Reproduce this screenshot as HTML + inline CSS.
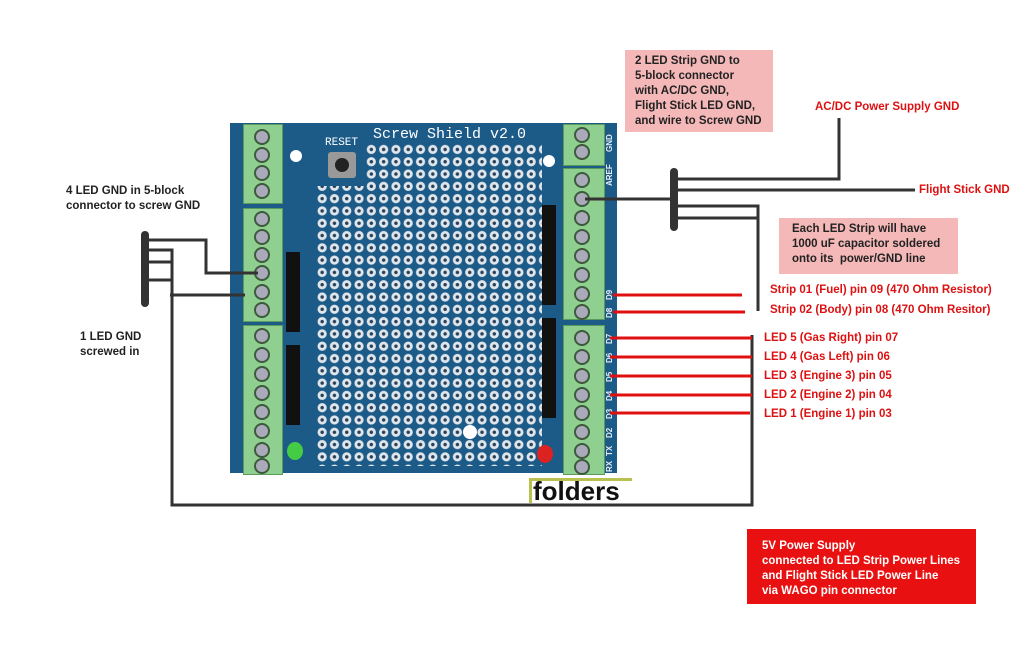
<!DOCTYPE html><html><head><style>
body{margin:0;width:1035px;height:669px;background:#fff;position:relative;overflow:hidden;font-family:"Liberation Sans",sans-serif}
.a{position:absolute}
.t{position:absolute;font-weight:bold;font-size:11.5px;line-height:15px;color:#222}
.r{color:#d11}
.term{position:absolute;background:#8fcf8f;border:1px solid #5a9a5a}
.hdr{position:absolute;background:#111}
.pl{position:absolute;left:605px;color:#e8eef4;font-size:8px;font-weight:bold;transform:rotate(-90deg);transform-origin:left top;width:20px}
</style></head><body>
<div class="a" style="left:230px;top:123px;width:387px;height:350px;background:#1c5a88"></div>
<div class="a" style="left:316px;top:131px;width:226px;height:335px;background-image:radial-gradient(circle,#2a3f55 1.5px,#dfe6ec 2px,#dfe6ec 4.3px,transparent 4.8px);background-size:12.3px 12.3px"></div>
<div class="a" style="left:316px;top:125px;width:230px;height:17px;background:#1c5a88"></div>
<div class="a" style="left:316px;top:131px;width:50px;height:55px;background:#1c5a88"></div>
<div class="a" style="left:328px;top:152px;width:28px;height:26px;background:#999;border-radius:3px"></div>
<div class="a" style="left:335px;top:158px;width:14px;height:14px;background:#222;border-radius:50%"></div>
<div class="a" style="left:325px;top:137px;color:#fff;font-size:11px;font-family:'Liberation Mono',monospace">RESET</div>
<div class="a" style="left:373px;top:126px;color:#fff;font-size:15px;font-family:'Liberation Mono',monospace">Screw Shield v2.0</div>
<div class="a" style="left:290px;top:150px;width:12px;height:12px;background:#fff;border-radius:50%"></div>
<div class="a" style="left:543px;top:155px;width:12px;height:12px;background:#fff;border-radius:50%"></div>
<div class="a" style="left:463px;top:425px;width:14px;height:14px;background:#fff;border-radius:50%"></div>
<div class="a" style="left:287px;top:442px;width:16px;height:18px;background:#4c4;border-radius:50%"></div>
<div class="a" style="left:537px;top:445px;width:16px;height:18px;background:#d22;border-radius:50%"></div>
<div class="hdr" style="left:286px;top:252px;width:14px;height:80px"></div>
<div class="hdr" style="left:286px;top:345px;width:14px;height:80px"></div>
<div class="hdr" style="left:542px;top:205px;width:14px;height:100px"></div>
<div class="hdr" style="left:542px;top:318px;width:14px;height:100px"></div>
<div class="term" style="left:243px;top:124px;width:38px;height:78px"></div>
<div class="term" style="left:243px;top:208px;width:38px;height:112px"></div>
<div class="term" style="left:243px;top:325px;width:38px;height:148px"></div>
<div class="term" style="left:563px;top:124px;width:40px;height:40px"></div>
<div class="term" style="left:563px;top:168px;width:40px;height:150px"></div>
<div class="term" style="left:563px;top:325px;width:40px;height:148px"></div>
<div class="pl" style="top:152px">GND</div><div class="pl" style="top:186px">AREF</div>
<div class="pl" style="top:300px">D9</div><div class="pl" style="top:318px">D8</div>
<div class="pl" style="top:344px">D7</div><div class="pl" style="top:363px">D6</div><div class="pl" style="top:382px">D5</div><div class="pl" style="top:401px">D4</div><div class="pl" style="top:419px">D3</div><div class="pl" style="top:438px">D2</div><div class="pl" style="top:456px">TX</div><div class="pl" style="top:472px">RX</div>
<div class="a" style="left:529px;top:478px;width:100px;height:22px;border-top:3px solid #b8c050;border-left:3px solid #b8c050"></div>
<div class="a" style="left:533px;top:478px;font-size:26px;font-weight:bold;color:#111;line-height:26px">folders</div>
<svg class="a" style="left:0;top:0" width="1035" height="669">
<g fill="#aab" stroke="#3c5a3c" stroke-width="2">
<circle cx="262" cy="137" r="7"/><circle cx="262" cy="155" r="7"/><circle cx="262" cy="173" r="7"/><circle cx="262" cy="191" r="7"/>
<circle cx="262" cy="219" r="7"/><circle cx="262" cy="237" r="7"/><circle cx="262" cy="255" r="7"/><circle cx="262" cy="273" r="7"/><circle cx="262" cy="292" r="7"/><circle cx="262" cy="310" r="7"/>
<circle cx="262" cy="336" r="7"/><circle cx="262" cy="355" r="7"/><circle cx="262" cy="374" r="7"/><circle cx="262" cy="393" r="7"/><circle cx="262" cy="412" r="7"/><circle cx="262" cy="431" r="7"/><circle cx="262" cy="450" r="7"/><circle cx="262" cy="466" r="7"/>
<circle cx="582" cy="135" r="7"/><circle cx="582" cy="152" r="7"/>
<circle cx="582" cy="180" r="7"/><circle cx="582" cy="199" r="7"/><circle cx="582" cy="218" r="7"/><circle cx="582" cy="237" r="7"/><circle cx="582" cy="256" r="7"/><circle cx="582" cy="275" r="7"/><circle cx="582" cy="294" r="7"/><circle cx="582" cy="312" r="7"/>
<circle cx="582" cy="338" r="7"/><circle cx="582" cy="357" r="7"/><circle cx="582" cy="376" r="7"/><circle cx="582" cy="395" r="7"/><circle cx="582" cy="413" r="7"/><circle cx="582" cy="432" r="7"/><circle cx="582" cy="451" r="7"/><circle cx="582" cy="467" r="7"/>
</g>
<g stroke="#333" stroke-width="3" fill="none">
<polyline points="145,240 206,240 206,273 258,273"/>
<polyline points="145,250 172,250 172,505 752,505 752,335"/>
<line x1="145" y1="262" x2="172" y2="262"/><line x1="145" y1="280" x2="172" y2="280"/>
<line x1="170" y1="295" x2="245" y2="295"/>
<line x1="585" y1="199" x2="674" y2="199"/>
<polyline points="674,179 839,179 839,118"/>
<line x1="674" y1="190" x2="915" y2="190"/>
<polyline points="674,206 758,206 758,311"/>
<line x1="674" y1="218" x2="758" y2="218"/>
</g>
<line x1="145" y1="235" x2="145" y2="303" stroke="#333" stroke-width="8" stroke-linecap="round"/>
<line x1="674" y1="172" x2="674" y2="227" stroke="#333" stroke-width="8" stroke-linecap="round"/>
<g stroke="#e01010" stroke-width="3">
<line x1="613" y1="295" x2="742" y2="295"/><line x1="613" y1="312" x2="745" y2="312"/>
<line x1="610" y1="338" x2="752" y2="338"/><line x1="610" y1="357" x2="752" y2="357"/><line x1="610" y1="376" x2="752" y2="376"/><line x1="610" y1="395" x2="752" y2="395"/><line x1="610" y1="413" x2="750" y2="413"/>
</g>
</svg>
<div class="a" style="left:625px;top:50px;width:148px;height:82px;background:#f4b8b8"></div>
<div class="t" style="left:635px;top:54px">2 LED Strip GND to<br>5-block connector<br>with AC/DC GND,<br>Flight Stick LED GND,<br>and wire to Screw GND</div>
<div class="t r" style="left:815px;top:100px">AC/DC Power Supply GND</div>
<div class="t r" style="left:919px;top:183px">Flight Stick GND</div>
<div class="a" style="left:779px;top:218px;width:179px;height:56px;background:#f4b8b8"></div>
<div class="t" style="left:792px;top:222px">Each LED Strip will have<br>1000 uF capacitor soldered<br>onto its&nbsp; power/GND line</div>
<div class="t" style="left:66px;top:184px">4 LED GND in 5-block<br>connector to screw GND</div>
<div class="t" style="left:80px;top:330px">1 LED GND<br>screwed in</div>
<div class="t r" style="left:770px;top:283px">Strip 01 (Fuel) pin 09 (470 Ohm Resistor)</div>
<div class="t r" style="left:770px;top:303px">Strip 02 (Body) pin 08 (470 Ohm Resitor)</div>
<div class="t r" style="left:764px;top:331px">LED 5 (Gas Right) pin 07</div>
<div class="t r" style="left:764px;top:350px">LED 4 (Gas Left) pin 06</div>
<div class="t r" style="left:764px;top:369px">LED 3 (Engine 3) pin 05</div>
<div class="t r" style="left:764px;top:388px">LED 2 (Engine 2) pin 04</div>
<div class="t r" style="left:764px;top:407px">LED 1 (Engine 1) pin 03</div>
<div class="a" style="left:747px;top:529px;width:229px;height:75px;background:#e81010"></div>
<div class="t" style="left:762px;top:539px;color:#fff">5V Power Supply<br>connected to LED Strip Power Lines<br>and Flight Stick LED Power Line<br>via WAGO pin connector</div>
</body></html>
